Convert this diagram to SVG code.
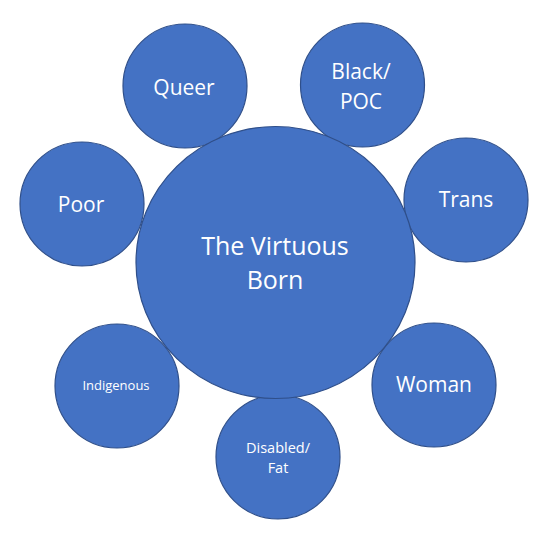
<svg xmlns="http://www.w3.org/2000/svg" width="553" height="533" viewBox="0 0 553 533">
<style>
.n{fill:#4472C4;stroke:#2F4F8A;stroke-width:1.2}
text{fill:#fff;font-family:"Open Sans","Noto Sans","Liberation Sans",sans-serif;text-anchor:middle}
.l{font-size:21px}
.m{font-size:14.5px}
.s{font-size:13px}
.b{font-size:25px}
</style>
<rect width="553" height="533" fill="#fff"/>
<g id="connectors"/>
<g id="queer"><circle class="n" cx="185" cy="86" r="62"/><text class="l" x="184" y="95">Queer</text></g>
<g id="black-poc"><circle class="n" cx="362.5" cy="85" r="62"/><text class="l" x="361" y="79">Black/</text><text class="l" x="361" y="109">POC</text></g>
<g id="poor"><circle class="n" cx="82" cy="204" r="62"/><text class="l" x="81" y="212">Poor</text></g>
<g id="trans"><circle class="n" cx="466" cy="200" r="62"/><text class="l" x="466" y="207">Trans</text></g>
<g id="indigenous"><circle class="n" cx="117" cy="386" r="62"/><text class="s" x="116" y="390">Indigenous</text></g>
<g id="woman"><circle class="n" cx="434" cy="385" r="62"/><text class="l" x="434" y="392">Woman</text></g>
<g id="disabled-fat"><circle class="n" cx="278" cy="457" r="62"/><text class="m" x="278" y="453">Disabled/</text><text class="m" x="278" y="473">Fat</text></g>
<g id="center"><ellipse class="n" cx="275.5" cy="262.5" rx="139.5" ry="136"/><text class="b" x="275" y="255">The Virtuous</text><text class="b" x="275" y="289">Born</text></g>
</svg>
